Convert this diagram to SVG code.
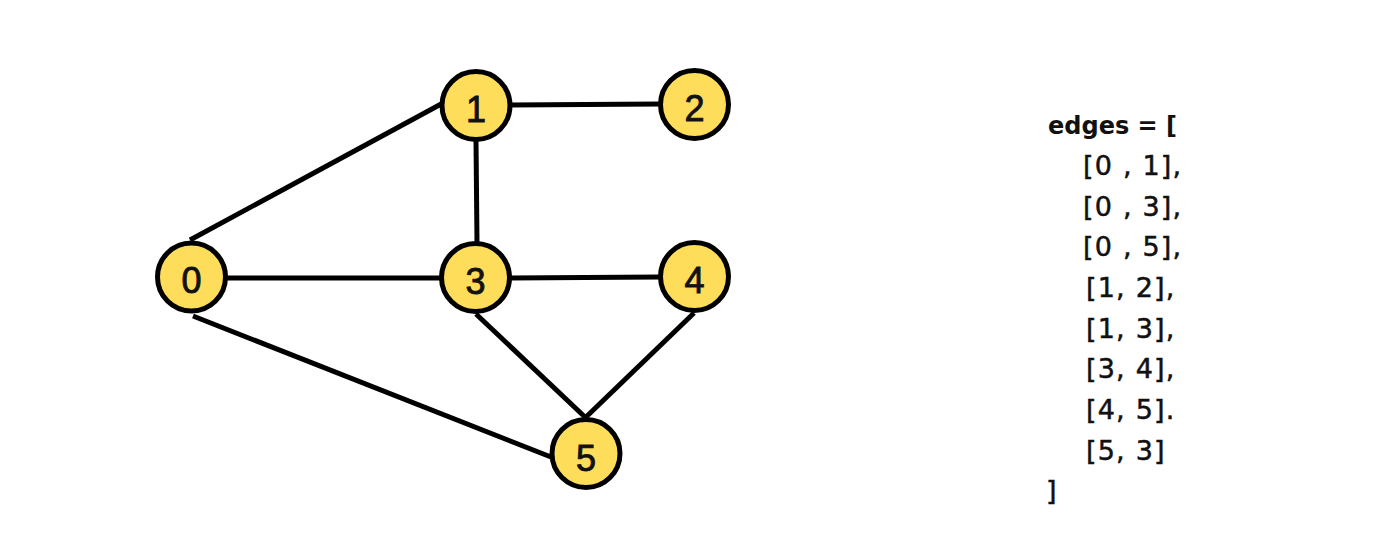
<svg xmlns="http://www.w3.org/2000/svg" width="1400" height="560" viewBox="0 0 1400 560">
  <style>
    .edge { stroke: #000; stroke-width: 5; stroke-linecap: butt; fill: none; }
    .node circle { fill: #FEDD5B; stroke: #000; stroke-width: 5; }
    .node text { font-family: "Liberation Sans", Arial, sans-serif; font-size: 36px; fill: #111; stroke: #111; stroke-width: 0.9; text-anchor: middle; }
    .code { font-family: "DejaVu Sans", "Liberation Sans", sans-serif; font-size: 27px; fill: #111; stroke: #111; stroke-width: 0.5; letter-spacing: 1.2px; }
    .code-bold { font-family: "DejaVu Sans", "Liberation Sans", sans-serif; font-size: 24px; font-weight: bold; fill: #111; }
  </style>
  <rect width="1400" height="560" fill="#fff"/>
  <g id="connectors">
    <line class="edge" x1="190" y1="240" x2="443" y2="103"/>
    <line class="edge" x1="510" y1="105" x2="660" y2="104"/>
    <line class="edge" x1="476" y1="140" x2="477" y2="243"/>
    <line class="edge" x1="226" y1="278" x2="441" y2="278"/>
    <line class="edge" x1="510" y1="278" x2="660" y2="277"/>
    <line class="edge" x1="193" y1="316" x2="551" y2="457"/>
    <line class="edge" x1="476" y1="314" x2="586" y2="418"/>
    <line class="edge" x1="694" y1="313" x2="585" y2="418"/>
  </g>
  <g id="node-0" class="node"><circle cx="191.5" cy="277" r="34"/><text x="191.5" y="293">0</text></g>
  <g id="node-1" class="node"><circle cx="476" cy="105.5" r="34"/><text x="476" y="122">1</text></g>
  <g id="node-2" class="node"><circle cx="694.5" cy="104.5" r="34"/><text x="694.5" y="121">2</text></g>
  <g id="node-3" class="node"><circle cx="475.5" cy="277.5" r="34"/><text x="475.5" y="294">3</text></g>
  <g id="node-4" class="node"><circle cx="694.5" cy="276.5" r="34"/><text x="694.5" y="293">4</text></g>
  <g id="node-5" class="node"><circle cx="586" cy="453.5" r="34"/><text x="586" y="471">5</text></g>
  <g id="edge-list">
    <text class="code-bold" x="1048" y="134">edges = [</text>
    <text class="code" x="1083" y="175">[0 , 1],</text>
    <text class="code" x="1083" y="216">[0 , 3],</text>
    <text class="code" x="1083" y="256">[0 , 5],</text>
    <text class="code" x="1086" y="297">[1, 2],</text>
    <text class="code" x="1086" y="338">[1, 3],</text>
    <text class="code" x="1086" y="378">[3, 4],</text>
    <text class="code" x="1086" y="419">[4, 5].</text>
    <text class="code" x="1086" y="460">[5, 3]</text>
    <text class="code" x="1046" y="500">]</text>
  </g>
</svg>
